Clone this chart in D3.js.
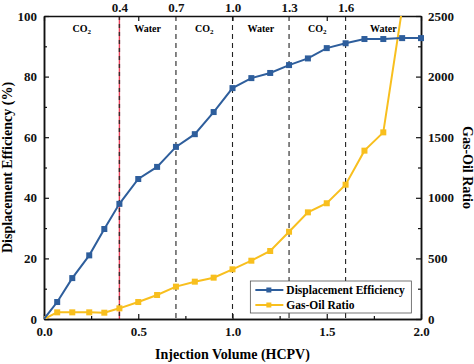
<!DOCTYPE html>
<html>
<head>
<meta charset="utf-8">
<script src="https://cdn.jsdelivr.net/npm/d3@7"></script>
<style>
  body { margin: 0; background: #fff; }
  svg text { font-family: 'Liberation Serif', 'DejaVu Serif', serif !important; font-weight: bold; }
</style>
</head>
<body>
<svg id="chart" width="474" height="364"></svg>
<script>
// injection volume (HCPV)
const injection = [0, 0.07, 0.15, 0.24, 0.32, 0.4, 0.5, 0.6, 0.7, 0.8, 0.9, 1.0, 1.1, 1.2, 1.3, 1.4, 1.5, 1.6, 1.7, 1.8, 1.9, 2.0];
// displacement efficiency (%)
const efficiency = [0, 5.6, 13.5, 21, 29.7, 38, 46.2, 50.2, 56.8, 61, 68.3, 76.2, 79.5, 81.2, 83.8, 86, 89.4, 91, 92.4, 92.4, 92.7, 92.7];
// gas-oil ratio (goes off the top after 1.8)
const gorX = [0, 0.07, 0.15, 0.24, 0.32, 0.4, 0.5, 0.6, 0.7, 0.8, 0.9, 1.0, 1.1, 1.2, 1.3, 1.4, 1.5, 1.6, 1.7, 1.8, 1.9];
const gor = [0, 55, 55, 55, 52, 88, 140, 198, 267, 308, 341, 410, 481, 561, 720, 880, 955, 1108, 1389, 1540, 2560];

const switchPoints = [0.4, 0.7, 1.0, 1.3, 1.6];
const stages = ["CO2", "Water", "CO2", "Water", "CO2", "Water"];
const stageBounds = [0, 0.4, 0.7, 1.0, 1.3, 1.6, 2.0];

const xTicks = [0, 0.5, 1.0, 1.5, 2.0];
const yTicks = [0, 20, 40, 60, 80, 100];
const y2Ticks = [0, 500, 1000, 1500, 2000, 2500];

const blue = "#2e5e9c", yellow = "#f8bf1e";

const margin = { left: 44, right: 53, top: 16, bottom: 45 };
const width = 474 - margin.left - margin.right;
const height = 364 - margin.top - margin.bottom;

const svg = d3.select("#chart");
const g = svg.append("g").attr("transform", "translate(" + margin.left + "," + margin.top + ")");

const x = d3.scaleLinear().domain([0, 2]).range([0, width]);
const y = d3.scaleLinear().domain([0, 100]).range([height, 0]);
const y2 = d3.scaleLinear().domain([0, 2500]).range([height, 0]);

svg.append("defs").append("clipPath").attr("id", "clip")
  .append("rect").attr("width", width).attr("height", height);

// stage separators
switchPoints.forEach((v, i) => {
  if (i === 0) {
    g.append("line").attr("x1", x(v)).attr("x2", x(v)).attr("y1", 0).attr("y2", height)
      .attr("stroke", "#e8425a").attr("stroke-width", 1.4);
    g.append("line").attr("x1", x(v)).attr("x2", x(v)).attr("y1", 0).attr("y2", height)
      .attr("stroke", "#3a2a2a").attr("stroke-width", 1.4).attr("stroke-dasharray", "4,4");
  } else {
    g.append("line").attr("x1", x(v)).attr("x2", x(v)).attr("y1", 0).attr("y2", height)
      .attr("stroke", "#222").attr("stroke-width", 1.1).attr("stroke-dasharray", "5,4");
  }
});

// stage labels
stages.forEach((s, i) => {
  const t = g.append("text")
    .attr("x", x((stageBounds[i] + stageBounds[i + 1]) / 2))
    .attr("y", 16)
    .attr("text-anchor", "middle")
    .attr("font-size", 10);
  if (s === "CO2") {
    t.append("tspan").text("CO");
    t.append("tspan").attr("font-size", 7).attr("dy", 2).text("2");
  } else {
    t.text(s);
  }
});

// axes
const axBottom = g.append("g").attr("transform", "translate(0," + height + ")")
  .call(d3.axisBottom(x).tickValues(xTicks).tickFormat(d3.format(".1f")).tickSizeInner(-5).tickSizeOuter(0).tickPadding(8));
const axBottomMinor = g.append("g").attr("transform", "translate(0," + height + ")")
  .call(d3.axisBottom(x).tickValues(d3.range(0.25, 2, 0.5)).tickFormat("").tickSizeInner(-3).tickSizeOuter(0));
const axTopLabels = g.append("g")
  .call(d3.axisTop(x).tickValues(switchPoints).tickFormat(d3.format(".1f")).tickSize(0).tickPadding(4));
const axTop = g.append("g")
  .call(d3.axisTop(x).tickValues(xTicks).tickFormat("").tickSizeInner(-5).tickSizeOuter(0));
const axLeft = g.append("g")
  .call(d3.axisLeft(y).tickValues(yTicks).tickSizeInner(-5).tickSizeOuter(0).tickPadding(7));
const axLeftMinor = g.append("g")
  .call(d3.axisLeft(y).tickValues(d3.range(10, 100, 20)).tickFormat("").tickSizeInner(-3).tickSizeOuter(0));
const axRight = g.append("g").attr("transform", "translate(" + width + ",0)")
  .call(d3.axisRight(y2).tickValues(y2Ticks).tickFormat(d3.format("d")).tickSizeInner(-5).tickSizeOuter(0).tickPadding(7));
const axRightMinor = g.append("g").attr("transform", "translate(" + width + ",0)")
  .call(d3.axisRight(y2).tickValues(d3.range(250, 2500, 500)).tickFormat("").tickSizeInner(-3).tickSizeOuter(0));

[axBottom, axBottomMinor, axTopLabels, axTop, axLeft, axLeftMinor, axRight, axRightMinor].forEach(a => {
  a.attr("font-family", null);
  a.selectAll("path").attr("stroke", "#111").attr("stroke-width", 1.5);
  a.selectAll("line").attr("stroke", "#111").attr("stroke-width", 1.2);
  a.selectAll("text").attr("fill", "#111").attr("font-size", 13);
});
axTopLabels.select("path").remove();

// series
const lineBlue = d3.line().x((d, i) => x(injection[i])).y(d => y(d));
const lineYellow = d3.line().x((d, i) => x(gorX[i])).y(d => y2(d));

const plot = g.append("g").attr("clip-path", "url(#clip)");

plot.append("path").datum(gor).attr("d", lineYellow)
  .attr("fill", "none").attr("stroke", yellow).attr("stroke-width", 2);
plot.selectAll(".ym").data(gor).enter().append("rect")
  .attr("x", (d, i) => x(gorX[i]) - 3).attr("y", d => y2(d) - 3)
  .attr("width", 6).attr("height", 6).attr("fill", yellow);

plot.append("path").datum(efficiency).attr("d", lineBlue)
  .attr("fill", "none").attr("stroke", blue).attr("stroke-width", 2);
g.selectAll(".bm").data(efficiency.slice(1)).enter().append("rect")
  .attr("x", (d, i) => x(injection[i + 1]) - 3).attr("y", d => y(d) - 3)
  .attr("width", 6).attr("height", 6).attr("fill", blue);

// legend
const legend = g.append("g").attr("transform", "translate(" + (x(1.1) - 1) + "," + (height - 38) + ")");
legend.append("rect").attr("width", 161).attr("height", 32)
  .attr("fill", "#fff").attr("stroke", "#555").attr("stroke-width", 0.8);
[["Displacement Efficiency", blue], ["Gas-Oil Ratio", yellow]].forEach((d, i) => {
  const ly = 9 + i * 15;
  legend.append("line").attr("x1", 5).attr("x2", 33).attr("y1", ly).attr("y2", ly)
    .attr("stroke", d[1]).attr("stroke-width", 2);
  legend.append("rect").attr("x", 16).attr("y", ly - 2.5).attr("width", 5).attr("height", 5).attr("fill", d[1]);
  legend.append("text").attr("x", 36).attr("y", ly + 4).attr("font-size", 11.5).text(d[0]);
});

// titles
svg.append("text").attr("x", margin.left + width / 2).attr("y", 359)
  .attr("text-anchor", "middle").attr("font-size", 14).text("Injection Volume (HCPV)");
svg.append("text").attr("transform", "translate(12," + (margin.top + height / 2) + ") rotate(-90)")
  .attr("text-anchor", "middle").attr("font-size", 14).text("Displacement Efficiency (%)");
svg.append("text").attr("transform", "translate(463," + (margin.top + height / 2) + ") rotate(90)")
  .attr("text-anchor", "middle").attr("font-size", 14).text("Gas-Oil Ratio");
</script>
</body>
</html>
